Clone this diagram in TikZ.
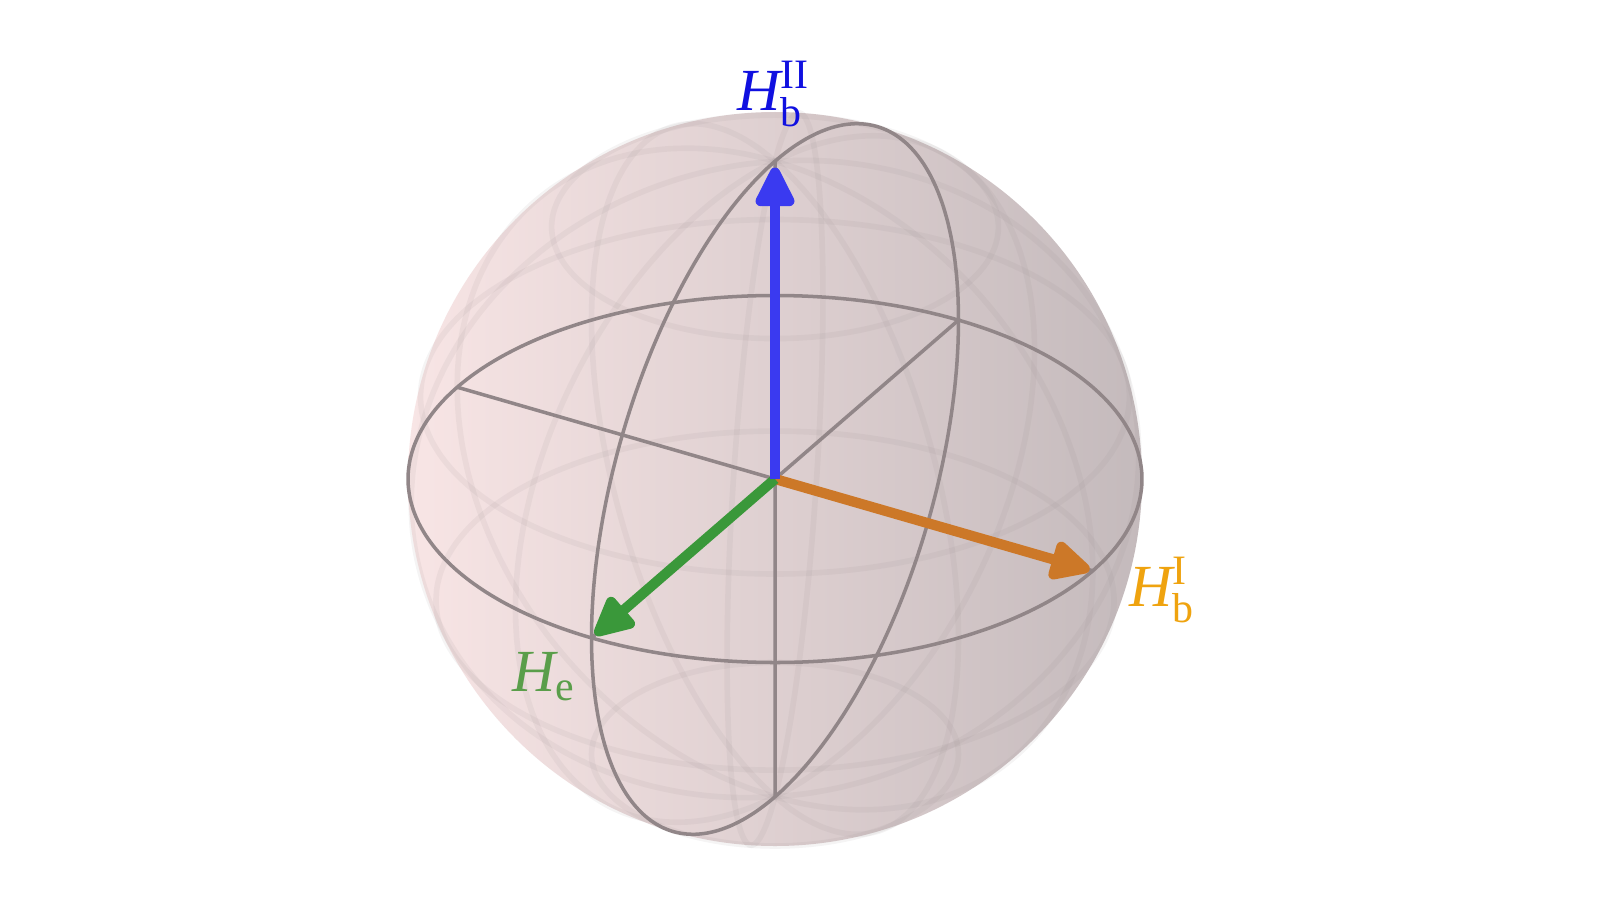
\documentclass[tikz,border=0pt]{standalone}
\usepackage{amsmath}
\usepackage{fontspec}
\setmainfont{Liberation Serif}
\usetikzlibrary{arrows.meta}
\definecolor{spherepink}{RGB}{248,229,229}
\definecolor{spheregray}{RGB}{196,186,188}
\definecolor{framegray}{RGB}{145,134,136}
\definecolor{vecblue}{RGB}{58,58,240}
\definecolor{vecorange}{RGB}{204,120,40}
\definecolor{vecgreen}{RGB}{58,152,58}
\definecolor{labblue}{RGB}{16,16,224}
\definecolor{laborange}{RGB}{239,163,15}
\definecolor{labgreen}{RGB}{90,158,74}
\begin{document}
\begin{tikzpicture}[
	frame/.style={draw=framegray, line width=1pt},
	wire/.style={draw=framegray, line width=1.6pt, opacity=0.09},
	vec/.style={line width=2.9pt, -{Triangle[length=13pt, width=12pt, round]}},
	lab/.style={font=\fontsize{17}{20}\selectfont, inner sep=0pt}
]
	\useasboundingbox (0,0) rectangle (16,9);
	\fill[white] (0,0) rectangle (16,9);
	\coordinate (O) at (7.75,4.21);
	% the sphere
	\shade[left color=spherepink, right color=spheregray] (O) circle (3.67);
	\begin{scope}[shift={(O)}, x={(3.178cm,-0.918cm)}, y={(1.835cm,1.589cm)}, z={(0cm,3.178cm)}]
		% faint wireframe
		\foreach \c in {37.5,75,112.5,150}
			\draw[wire] plot[domain=0:360, samples=73, smooth] ({sin(\c)*cos(\x)},{sin(\c)*sin(\x)},{cos(\c)});
		\foreach \a in {0,37.5,75,112.5,150,180,-142.5,-105,-67.5,-30}
			\draw[wire] plot[domain=0:180, samples=37, smooth] ({sin(\x)*cos(\a)},{sin(\x)*sin(\a)},{cos(\x)});
		% equator, meridian and axes
		\draw[frame] plot[domain=0:360, samples=91, smooth] ({cos(\x)},{sin(\x)},0);
		\draw[frame] plot[domain=0:360, samples=91, smooth] (0,{cos(\x)},{sin(\x)});
		\draw[frame] (-1,0,0) -- (1,0,0) (0,-1,0) -- (0,1,0) (0,0,-1) -- (0,0,1);
		\coordinate (e) at (0,-0.98,0);
		\coordinate (bI) at (0.99,0,0);
		\coordinate (bII) at (0,0,0.98);
	\end{scope}
	% vectors
	\draw[vec, vecorange] (O) -- (bI);
	\draw[vec, vecgreen] (O) -- (e);
	\draw[vec, vecblue] (O) -- (bII);
	\node[lab, text=labblue] (labII) at (7.74,8.06) {$\textit{H}^{\textrm{II}}_{\textrm{b}}$};
	\node[lab, text=laborange] (labI) at (11.62,3.10) {$\textit{H}^{\textrm{I}}_{\textrm{b}}$};
	\node[lab, text=labgreen] (labe) at (5.44,2.23) {$\textit{H}_{\textrm{e}}$};
\end{tikzpicture}
\end{document}
